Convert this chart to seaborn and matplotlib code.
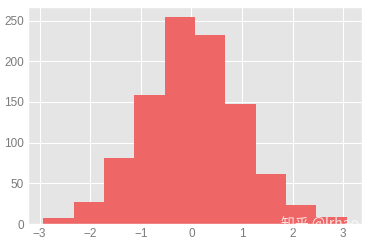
import matplotlib
matplotlib.use("Agg")
import matplotlib.pyplot as plt
import seaborn as sns
import numpy as np

bin_edges = [-2.93, -2.33, -1.73, -1.13, -0.53, 0.07, 0.67, 1.27, 1.87, 2.47, 3.07]
counts = [7, 27, 81, 159, 254, 232, 148, 61, 23, 8]
bin_centers = [(a + b) / 2 for a, b in zip(bin_edges[:-1], bin_edges[1:])]

plt.style.use("ggplot")
plt.rcParams['font.family'] = ['Liberation Sans', 'Noto Sans CJK SC', 'DejaVu Sans']

fig = plt.figure(figsize=(369 / 100, 245 / 100), dpi=100)
ax = fig.add_axes([28 / 369, 1 - 224 / 245, (362 - 28) / 369, (224 - 7) / 245])

sns.histplot(x=bin_centers, weights=counts, bins=bin_edges, ax=ax,
             color="#EE6666", alpha=1.0, edgecolor="none", linewidth=0)
ax.set_xlim(-3.23, 3.37)
ax.set_ylim(0, 266.7)
ax.set_xticks([-3, -2, -1, 0, 1, 2, 3])
ax.set_yticks([0, 50, 100, 150, 200, 250])
ax.set_xticklabels(["\u22123", "\u22122", "\u22121", "0", "1", "2", "3"])
ax.set_xlabel("")
ax.set_ylabel("")
ax.tick_params(axis="both", labelsize=8.5, colors="#7a7a7a", length=0, pad=3)
ax.grid(True, color="white", linewidth=0.8)
ax.set_axisbelow(True)

fig.text(281 / 369, 1 - 225 / 245, "知乎 @lrhao", fontsize=10, color="white", alpha=0.8,
         ha="left", va="center", family=['Noto Sans CJK SC', 'DejaVu Sans'])

fig.savefig("out.png", dpi=100)
